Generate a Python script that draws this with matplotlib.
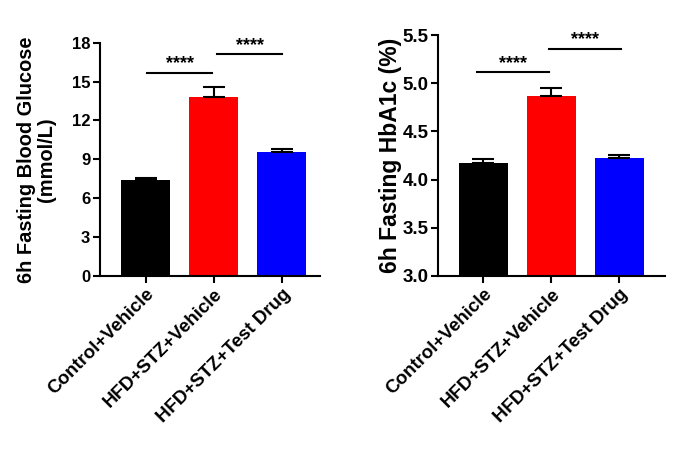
import matplotlib
matplotlib.use("Agg")
import matplotlib.pyplot as plt

plt.rcParams['font.family'] = ['Liberation Sans', 'DejaVu Sans']
plt.rcParams['font.weight'] = 'bold'

groups = ["Control+Vehicle", "HFD+STZ+Vehicle", "HFD+STZ+Test Drug"]
colors = ["#000000", "#ff0000", "#0000ff"]

glucose_mean = [7.4, 13.8, 9.57]
glucose_sem = [0.14, 0.8, 0.2]
glucose_ticks = [0, 3, 6, 9, 12, 15, 18]

hba1c_mean = [4.175, 4.867, 4.227]
hba1c_sem = [0.035, 0.08, 0.028]
hba1c_ticks = [3.0, 3.5, 4.0, 4.5, 5.0, 5.5]

# significance: (x1, x2, y, label)
glucose_sig = [(0.02, 0.98, 15.7, "****"), (1.05, 2.0, 17.15, "****")]
hba1c_sig = [(-0.09, 0.96, 5.12, "****"), (0.96, 2.02, 5.36, "****")]

fig = plt.figure(figsize=(6.78, 4.62), dpi=100)
ax1 = fig.add_axes([0.1475, 0.4026, 0.3245, 0.505])
ax2 = fig.add_axes([0.6465, 0.4026, 0.3344, 0.5216])

def draw(ax, means, sems, ticks, ylim, xlim, ylabel, sigs, fmt, yfs, lfs, lx):
    x = list(range(len(groups)))
    ax.bar(x, [m - ylim[0] for m in means], bottom=ylim[0], width=0.72,
           color=colors, edgecolor='none', zorder=2)
    ax.errorbar(x, means, yerr=[[0]*len(sems), sems], fmt='none',
                ecolor='black', elinewidth=1.5, capsize=8, capthick=1.5, zorder=3)
    ax.set_ylim(*ylim)
    ax.set_xlim(*xlim)
    ax.set_yticks(ticks)
    ax.set_yticklabels([fmt.format(t) for t in ticks], fontsize=yfs, fontweight='bold')
    ax.set_xticks(x)
    ax.set_xticklabels(groups, rotation=45, ha='right', rotation_mode='anchor',
                       fontsize=13.5, fontweight='bold')
    ax.spines['top'].set_visible(False)
    ax.spines['right'].set_visible(False)
    for s in ['left', 'bottom']:
        ax.spines[s].set_linewidth(1.5)
    ax.tick_params(axis='both', direction='out', length=5, width=1.5, pad=2)
    ax.set_ylabel(ylabel, fontsize=lfs, fontweight='bold', va='center',
                  linespacing=1.05)
    ax.yaxis.set_label_coords(lx, 0.5)
    for x1, x2, y, lab in sigs:
        ax.plot([x1, x2], [y, y], color='black', lw=1.5, clip_on=False)
        ax.text((x1 + x2) / 2, y, lab, ha='center', va='bottom', fontsize=13,
                fontweight='bold')

draw(ax1, glucose_mean, glucose_sem, glucose_ticks, (0, 18), (-0.67, 2.56),
     "6h Fasting Blood Glucose\n(mmol/L)", glucose_sig, "{:g}", 12, 14.4, -0.29)
draw(ax2, hba1c_mean, hba1c_sem, hba1c_ticks, (3.0, 5.5), (-0.66, 2.67),
     "6h Fasting HbA1c (%)", hba1c_sig, "{:.1f}", 13.5, 16.5, -0.209)

fig.savefig("out.png", dpi=100)
